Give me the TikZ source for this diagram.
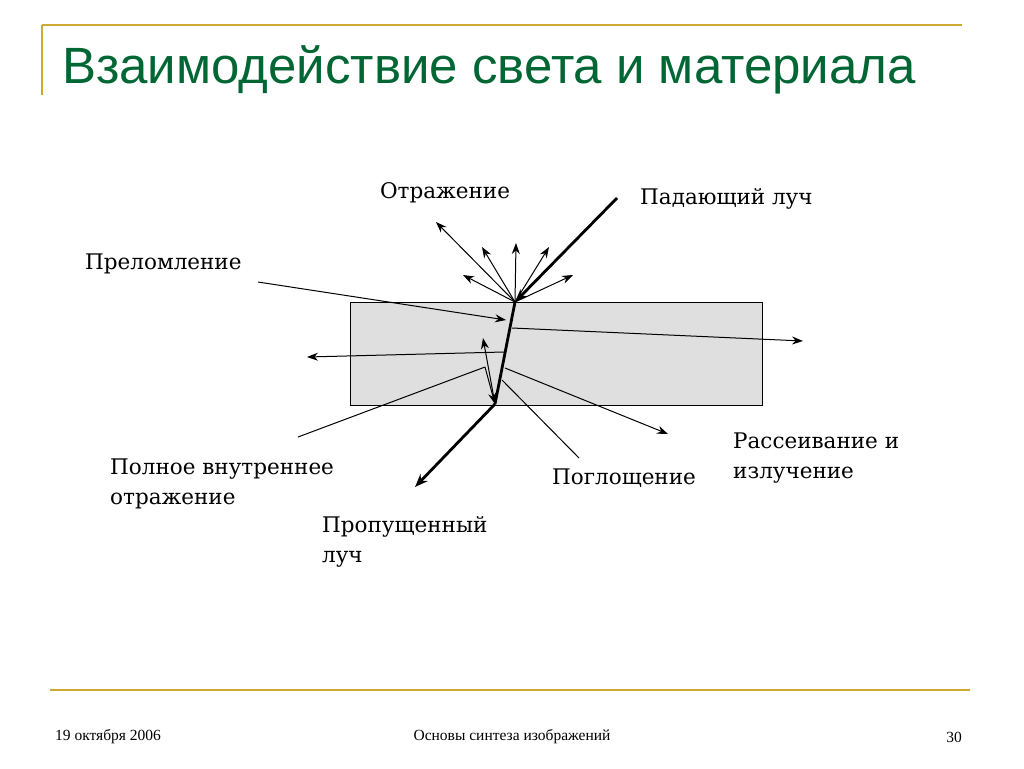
\documentclass[tikz,border=0pt]{standalone}
\usepackage{fontspec}
\setmainfont{DejaVu Serif}
\newfontfamily\titlefont{Liberation Sans}
\newfontfamily\footfont{Liberation Serif}
\usetikzlibrary{arrows.meta}
\definecolor{ttl}{RGB}{0,102,51}
\definecolor{gold}{RGB}{204,170,51}
\begin{document}
\begin{tikzpicture}[x=1pt,y=-1pt,
  thin ray/.style={line width=1pt,-{Stealth[length=11pt,width=8pt]}},
  thick ray/.style={line width=2.8pt,-{Stealth[length=13pt,width=10pt]}},
  lbl/.style={font=\fontsize{21.5}{24}\selectfont,anchor=west,inner sep=0pt,align=left},
  foot/.style={font=\footfont\fontsize{15.5}{17}\selectfont,inner sep=0pt}]
\useasboundingbox (0,0) rectangle (1024,768);
\draw[gold,line width=1.5pt] (42,25) -- (962,25);
\draw[gold,line width=1.5pt] (42,25) -- (42,95);
\draw[gold,line width=1.5pt] (50,690) -- (970,690);
\node[anchor=west,inner sep=0pt,text=ttl,font=\titlefont\fontsize{51}{55}\selectfont] (title) at (62,70) {Взаимодействие света и материала};
\node[draw=black,line width=1pt,fill=gray!25,minimum width=412pt,minimum height=103pt,anchor=north west,inner sep=0pt] (box) at (350,302) {};
\coordinate (P) at (515,302);
\coordinate (Q) at (495,404);
\coordinate (inc) at (617,198);
\coordinate (tr) at (415,487);
\draw[thick ray] (inc) -- (P);
\draw[line width=2.8pt] (P) -- (Q);
\draw[thick ray] (Q) -- (tr);
\foreach \n/\x/\y in {r1/436/222,r2/482/247,r3/516/243,r4/549/247,r5/463/275,r6/573/275}{
  \coordinate (\n) at (\x,\y);
  \draw[thin ray] (P) -- (\n);}
\coordinate (pr0) at (258,282);
\coordinate (pr1) at (506,320);
\coordinate (pr2) at (512,328);
\coordinate (pr3) at (803,341);
\draw[thin ray] (pr0) -- (pr1);
\draw[thin ray] (pr2) -- (pr3);
\coordinate (lf0) at (504,352);
\coordinate (lf1) at (307,357);
\draw[thin ray] (lf0) -- (lf1);
\coordinate (ti0) at (298,437);
\coordinate (ti1) at (485,367);
\coordinate (ti2) at (483,338);
\draw[line width=1pt] (ti0) -- (ti1);
\draw[thin ray] (ti1) -- (Q);
\draw[thin ray] (Q) -- (ti2);
\coordinate (sc0) at (505,368);
\coordinate (sc1) at (668,434);
\draw[thin ray] (sc0) -- (sc1);
\coordinate (ab0) at (502,380);
\coordinate (ab1) at (579,458);
\draw[line width=1pt] (ab0) -- (ab1);
\node[lbl,anchor=center] (l1) at (445,193) {Отражение};
\node[lbl] (l2) at (640,199) {Падающий луч};
\node[lbl] (l3) at (85,264) {Преломление};
\node[lbl] (l4) at (733,458) {Рассеивание и\\[6pt]излучение};
\node[lbl] (l5) at (110,484) {Полное внутреннее\\[6pt]отражение};
\node[lbl] (l6) at (552,478) {Поглощение};
\node[lbl] (l7) at (322,542) {Пропущенный\\[6pt]луч};
\node[foot,anchor=west] (f1) at (55,737) {19 октября 2006};
\node[foot] (f2) at (512,737) {Основы синтеза изображений};
\node[foot,anchor=east] (f3) at (962,737) {30};
\end{tikzpicture}
\end{document}
